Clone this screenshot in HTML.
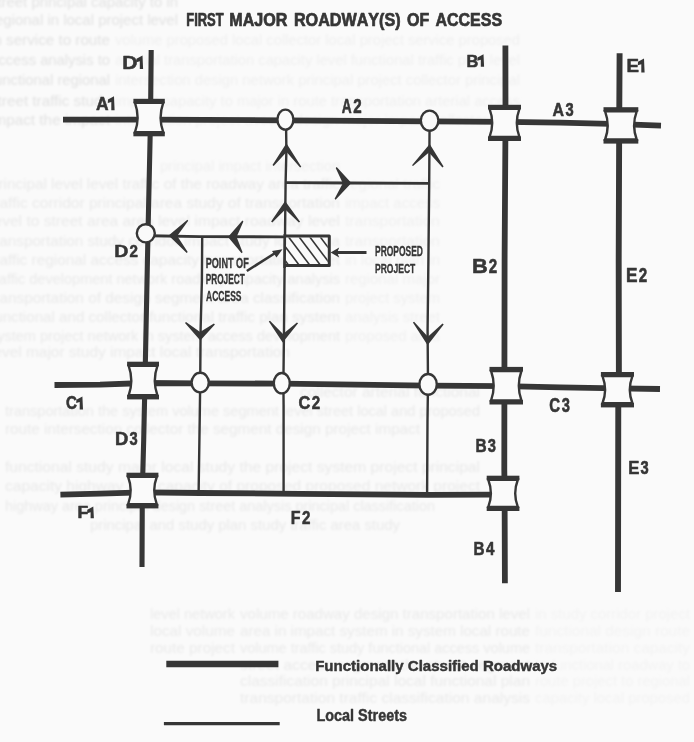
<!DOCTYPE html>
<html><head><meta charset="utf-8"><style>
html,body{margin:0;padding:0;background:#fafafa;}
body{width:694px;height:742px;overflow:hidden;}
svg{display:block;filter:blur(0.7px);}
</style></head><body>
<svg width="694" height="742" viewBox="0 0 694 742">
<rect width="694" height="742" fill="#fafafa"/>
<filter id="btb" x="-5%" y="-5%" width="110%" height="110%"><feGaussianBlur stdDeviation="1.0"/></filter>
<g filter="url(#btb)"><text x="-10.0" y="7.0" font-family='"Liberation Sans", sans-serif' font-size="15.0" fill="#e3e3e3" textLength="188.0" lengthAdjust="spacingAndGlyphs">street principal capacity to in</text>
<text x="-10.0" y="24.5" font-family='"Liberation Sans", sans-serif' font-size="15.0" fill="#e3e3e3" textLength="188.0" lengthAdjust="spacingAndGlyphs">regional in local project level</text>
<text x="-10.0" y="44.5" font-family='"Liberation Sans", sans-serif' font-size="15.0" fill="#e3e3e3" textLength="120.0" lengthAdjust="spacingAndGlyphs">in service to route</text>
<text x="115.0" y="44.5" font-family='"Liberation Sans", sans-serif' font-size="15.0" fill="#f0f0f0" textLength="405.0" lengthAdjust="spacingAndGlyphs">volume proposed local collector local project service proposed</text>
<text x="-10.0" y="64.5" font-family='"Liberation Sans", sans-serif' font-size="15.0" fill="#e3e3e3" textLength="120.0" lengthAdjust="spacingAndGlyphs">access analysis to</text>
<text x="115.0" y="64.5" font-family='"Liberation Sans", sans-serif' font-size="15.0" fill="#f0f0f0" textLength="405.0" lengthAdjust="spacingAndGlyphs">arterial transportation capacity level functional traffic plan level</text>
<text x="-10.0" y="85.0" font-family='"Liberation Sans", sans-serif' font-size="15.0" fill="#e3e3e3" textLength="120.0" lengthAdjust="spacingAndGlyphs">functional regional</text>
<text x="115.0" y="85.0" font-family='"Liberation Sans", sans-serif' font-size="15.0" fill="#f0f0f0" textLength="405.0" lengthAdjust="spacingAndGlyphs">intersection design network principal project collector principal</text>
<text x="-10.0" y="106.0" font-family='"Liberation Sans", sans-serif' font-size="15.0" fill="#e3e3e3" textLength="120.0" lengthAdjust="spacingAndGlyphs">street traffic study</text>
<text x="115.0" y="106.0" font-family='"Liberation Sans", sans-serif' font-size="15.0" fill="#f0f0f0" textLength="405.0" lengthAdjust="spacingAndGlyphs">impact capacity to major in route transportation arterial access</text>
<text x="-10.0" y="125.0" font-family='"Liberation Sans", sans-serif' font-size="15.0" fill="#e3e3e3" textLength="120.0" lengthAdjust="spacingAndGlyphs">impact the impact</text>
<text x="115.0" y="125.0" font-family='"Liberation Sans", sans-serif' font-size="15.0" fill="#f0f0f0" textLength="405.0" lengthAdjust="spacingAndGlyphs">intersection project access design major impact collector plan</text>
<text x="160.0" y="171.0" font-family='"Liberation Sans", sans-serif' font-size="15.0" fill="#f0f0f0" textLength="180.0" lengthAdjust="spacingAndGlyphs">principal impact intersection</text>
<text x="-10.0" y="189.0" font-family='"Liberation Sans", sans-serif' font-size="15.0" fill="#eaeaea" textLength="350.0" lengthAdjust="spacingAndGlyphs">principal level level traffic of the roadway area traffic</text>
<text x="345.0" y="189.0" font-family='"Liberation Sans", sans-serif' font-size="15.0" fill="#f0f0f0" textLength="95.0" lengthAdjust="spacingAndGlyphs">regional traffic</text>
<text x="-10.0" y="207.5" font-family='"Liberation Sans", sans-serif' font-size="15.0" fill="#eaeaea" textLength="350.0" lengthAdjust="spacingAndGlyphs">traffic corridor principal area study of transportation</text>
<text x="345.0" y="207.5" font-family='"Liberation Sans", sans-serif' font-size="15.0" fill="#f0f0f0" textLength="95.0" lengthAdjust="spacingAndGlyphs">impact access</text>
<text x="-10.0" y="226.0" font-family='"Liberation Sans", sans-serif' font-size="15.0" fill="#eaeaea" textLength="350.0" lengthAdjust="spacingAndGlyphs">level to street area area level impact roadway level</text>
<text x="345.0" y="226.0" font-family='"Liberation Sans", sans-serif' font-size="15.0" fill="#f0f0f0" textLength="95.0" lengthAdjust="spacingAndGlyphs">transportation</text>
<text x="-10.0" y="246.0" font-family='"Liberation Sans", sans-serif' font-size="15.0" fill="#eaeaea" textLength="350.0" lengthAdjust="spacingAndGlyphs">transportation study corridor impact study local area</text>
<text x="345.0" y="246.0" font-family='"Liberation Sans", sans-serif' font-size="15.0" fill="#f0f0f0" textLength="95.0" lengthAdjust="spacingAndGlyphs">transportation</text>
<text x="-10.0" y="265.0" font-family='"Liberation Sans", sans-serif' font-size="15.0" fill="#eaeaea" textLength="350.0" lengthAdjust="spacingAndGlyphs">traffic regional access capacity transportation street</text>
<text x="345.0" y="265.0" font-family='"Liberation Sans", sans-serif' font-size="15.0" fill="#f0f0f0" textLength="95.0" lengthAdjust="spacingAndGlyphs">in local plan in</text>
<text x="-10.0" y="284.0" font-family='"Liberation Sans", sans-serif' font-size="15.0" fill="#eaeaea" textLength="350.0" lengthAdjust="spacingAndGlyphs">traffic development network roadway capacity analysis</text>
<text x="345.0" y="284.0" font-family='"Liberation Sans", sans-serif' font-size="15.0" fill="#f0f0f0" textLength="95.0" lengthAdjust="spacingAndGlyphs">regional major</text>
<text x="-10.0" y="303.0" font-family='"Liberation Sans", sans-serif' font-size="15.0" fill="#eaeaea" textLength="350.0" lengthAdjust="spacingAndGlyphs">transportation of design segment area classification</text>
<text x="345.0" y="303.0" font-family='"Liberation Sans", sans-serif' font-size="15.0" fill="#f0f0f0" textLength="95.0" lengthAdjust="spacingAndGlyphs">project system</text>
<text x="-10.0" y="322.0" font-family='"Liberation Sans", sans-serif' font-size="15.0" fill="#eaeaea" textLength="350.0" lengthAdjust="spacingAndGlyphs">functional and collector functional traffic plan system</text>
<text x="345.0" y="322.0" font-family='"Liberation Sans", sans-serif' font-size="15.0" fill="#f0f0f0" textLength="95.0" lengthAdjust="spacingAndGlyphs">analysis street</text>
<text x="-10.0" y="341.0" font-family='"Liberation Sans", sans-serif' font-size="15.0" fill="#eaeaea" textLength="350.0" lengthAdjust="spacingAndGlyphs">system project network in system access development</text>
<text x="345.0" y="341.0" font-family='"Liberation Sans", sans-serif' font-size="15.0" fill="#f0f0f0" textLength="95.0" lengthAdjust="spacingAndGlyphs">proposed area</text>
<text x="-10.0" y="357.0" font-family='"Liberation Sans", sans-serif' font-size="15.0" fill="#eaeaea" textLength="300.0" lengthAdjust="spacingAndGlyphs">level major study impact local transportation</text>
<text x="300.0" y="397.0" font-family='"Liberation Sans", sans-serif' font-size="15.0" fill="#eaeaea" textLength="180.0" lengthAdjust="spacingAndGlyphs">collector arterial functional</text>
<text x="5.0" y="416.0" font-family='"Liberation Sans", sans-serif' font-size="15.0" fill="#eaeaea" textLength="475.0" lengthAdjust="spacingAndGlyphs">transportation the system volume segment level street local and proposed</text>
<text x="5.0" y="434.0" font-family='"Liberation Sans", sans-serif' font-size="15.0" fill="#eaeaea" textLength="415.0" lengthAdjust="spacingAndGlyphs">route intersection collector the segment design project impact</text>
<text x="5.0" y="472.0" font-family='"Liberation Sans", sans-serif' font-size="15.0" fill="#eaeaea" textLength="475.0" lengthAdjust="spacingAndGlyphs">functional study major local study the project system project principal</text>
<text x="5.0" y="491.0" font-family='"Liberation Sans", sans-serif' font-size="15.0" fill="#eaeaea" textLength="475.0" lengthAdjust="spacingAndGlyphs">capacity highway and capacity of proposed proposed network project</text>
<text x="5.0" y="511.0" font-family='"Liberation Sans", sans-serif' font-size="15.0" fill="#eaeaea" textLength="430.0" lengthAdjust="spacingAndGlyphs">highway area principal design street analysis principal classification</text>
<text x="90.0" y="530.0" font-family='"Liberation Sans", sans-serif' font-size="15.0" fill="#eaeaea" textLength="310.0" lengthAdjust="spacingAndGlyphs">principal and study plan study traffic area study</text>
<text x="240.0" y="619.0" font-family='"Liberation Sans", sans-serif' font-size="15.0" fill="#ebebeb" textLength="290.0" lengthAdjust="spacingAndGlyphs">volume roadway design transportation level</text>
<text x="535.0" y="619.0" font-family='"Liberation Sans", sans-serif' font-size="15.0" fill="#f3f3f3" textLength="155.0" lengthAdjust="spacingAndGlyphs">in study corridor project</text>
<text x="240.0" y="636.0" font-family='"Liberation Sans", sans-serif' font-size="15.0" fill="#ebebeb" textLength="290.0" lengthAdjust="spacingAndGlyphs">area in impact system in system local route</text>
<text x="535.0" y="636.0" font-family='"Liberation Sans", sans-serif' font-size="15.0" fill="#f3f3f3" textLength="155.0" lengthAdjust="spacingAndGlyphs">functional design route</text>
<text x="240.0" y="653.0" font-family='"Liberation Sans", sans-serif' font-size="15.0" fill="#ebebeb" textLength="290.0" lengthAdjust="spacingAndGlyphs">volume traffic study functional access volume</text>
<text x="535.0" y="653.0" font-family='"Liberation Sans", sans-serif' font-size="15.0" fill="#f3f3f3" textLength="155.0" lengthAdjust="spacingAndGlyphs">transportation capacity</text>
<text x="240.0" y="670.0" font-family='"Liberation Sans", sans-serif' font-size="15.0" fill="#ebebeb" textLength="290.0" lengthAdjust="spacingAndGlyphs">street access segment the street segment</text>
<text x="535.0" y="670.0" font-family='"Liberation Sans", sans-serif' font-size="15.0" fill="#f3f3f3" textLength="155.0" lengthAdjust="spacingAndGlyphs">to functional roadway to</text>
<text x="240.0" y="686.0" font-family='"Liberation Sans", sans-serif' font-size="15.0" fill="#ebebeb" textLength="290.0" lengthAdjust="spacingAndGlyphs">classification principal local functional plan</text>
<text x="535.0" y="686.0" font-family='"Liberation Sans", sans-serif' font-size="15.0" fill="#f3f3f3" textLength="155.0" lengthAdjust="spacingAndGlyphs">route project to regional</text>
<text x="240.0" y="703.0" font-family='"Liberation Sans", sans-serif' font-size="15.0" fill="#ebebeb" textLength="290.0" lengthAdjust="spacingAndGlyphs">transportation traffic classification analysis</text>
<text x="535.0" y="703.0" font-family='"Liberation Sans", sans-serif' font-size="15.0" fill="#f3f3f3" textLength="155.0" lengthAdjust="spacingAndGlyphs">capacity local proposed</text>
<text x="150.0" y="619.0" font-family='"Liberation Sans", sans-serif' font-size="15.0" fill="#ebebeb" textLength="85.0" lengthAdjust="spacingAndGlyphs">level network</text>
<text x="150.0" y="636.0" font-family='"Liberation Sans", sans-serif' font-size="15.0" fill="#ebebeb" textLength="85.0" lengthAdjust="spacingAndGlyphs">local volume</text>
<text x="150.0" y="653.0" font-family='"Liberation Sans", sans-serif' font-size="15.0" fill="#ebebeb" textLength="85.0" lengthAdjust="spacingAndGlyphs">route project</text></g>
<polyline points="286.0,121.0 286.4,150.0 285.6,183.0 285.0,237.0 284.6,265.0 284.0,330.0 283.4,383.0 283.6,405.0 283.6,494.0" fill="none" stroke="#363636" stroke-width="2.4" stroke-linecap="butt" stroke-linejoin="round"/>
<polyline points="429.6,121.0 429.2,183.0 428.4,260.0 427.6,330.0 428.0,384.0 427.5,420.0 427.1,494.0" fill="none" stroke="#363636" stroke-width="2.4" stroke-linecap="butt" stroke-linejoin="round"/>
<polyline points="202.2,236.5 201.9,280.0 200.6,330.0 200.2,383.0 199.7,420.0 198.6,494.0" fill="none" stroke="#363636" stroke-width="2.4" stroke-linecap="butt" stroke-linejoin="round"/>
<polyline points="285.8,182.6 350.0,183.0 429.2,183.4" fill="none" stroke="#363636" stroke-width="2.8" stroke-linecap="butt" stroke-linejoin="round"/>
<polyline points="150.0,235.8 200.0,236.6 285.0,236.9" fill="none" stroke="#363636" stroke-width="2.9" stroke-linecap="butt" stroke-linejoin="round"/>
<line x1="366.5" y1="252.5" x2="333.0" y2="252.5" stroke="#363636" stroke-width="3.0" stroke-linecap="butt"/>
<line x1="246.8" y1="271.0" x2="276.0" y2="252.5" stroke="#363636" stroke-width="2.6" stroke-linecap="butt"/>
<polyline points="63.0,119.6 150.0,119.6 285.0,120.3 430.0,121.4 505.0,121.9 560.0,122.6 620.0,124.2 661.0,125.6" fill="none" stroke="#363636" stroke-width="5.8" stroke-linecap="butt" stroke-linejoin="round"/>
<polyline points="54.5,385.0 100.0,384.6 145.0,383.0 200.0,383.4 283.0,383.6 428.0,385.6 505.0,386.2 560.0,387.4 618.0,388.4 660.0,389.0" fill="none" stroke="#363636" stroke-width="5.8" stroke-linecap="butt" stroke-linejoin="round"/>
<polyline points="60.4,494.6 100.0,493.6 142.0,492.3 200.0,493.0 300.0,493.8 428.0,494.8 490.0,494.7" fill="none" stroke="#363636" stroke-width="5.8" stroke-linecap="butt" stroke-linejoin="round"/>
<polyline points="151.2,50.0 150.5,120.0 148.0,233.0 145.0,380.0 143.7,440.0 142.3,492.0 142.0,567.0" fill="none" stroke="#363636" stroke-width="5.1" stroke-linecap="butt" stroke-linejoin="round"/>
<polyline points="505.4,45.5 505.5,122.0 504.6,260.0 504.4,385.0 504.3,470.0 504.6,494.0 504.9,583.3" fill="none" stroke="#363636" stroke-width="5.8" stroke-linecap="butt" stroke-linejoin="round"/>
<polyline points="619.6,53.3 619.2,125.0 618.7,260.0 618.9,380.0 618.3,390.0 618.0,592.0" fill="none" stroke="#363636" stroke-width="5.9" stroke-linecap="butt" stroke-linejoin="round"/>
<rect x="285" y="236.1" width="44.3" height="29.5" fill="#fafafa"/>
<polyline points="285.0,236.1 329.3,236.1 329.3,265.6 285.0,265.6" fill="none" stroke="#363636" stroke-width="3.0" stroke-linecap="butt" stroke-linejoin="round"/>
<clipPath id="hb"><rect x="285.5" y="237.6" width="42.3" height="26.5"/></clipPath>
<g clip-path="url(#hb)"><line x1="267.4" y1="237.0" x2="297.5" y2="277.0" stroke="#363636" stroke-width="1.6" stroke-linecap="butt"/><line x1="278.0" y1="237.0" x2="308.1" y2="277.0" stroke="#363636" stroke-width="1.6" stroke-linecap="butt"/><line x1="288.6" y1="237.0" x2="318.7" y2="277.0" stroke="#363636" stroke-width="1.6" stroke-linecap="butt"/><line x1="299.2" y1="237.0" x2="329.3" y2="277.0" stroke="#363636" stroke-width="1.6" stroke-linecap="butt"/><line x1="309.8" y1="237.0" x2="339.9" y2="277.0" stroke="#363636" stroke-width="1.6" stroke-linecap="butt"/><line x1="320.3" y1="237.0" x2="350.4" y2="277.0" stroke="#363636" stroke-width="1.6" stroke-linecap="butt"/></g>
<line x1="284.8" y1="234.0" x2="284.6" y2="268.0" stroke="#363636" stroke-width="2.6" stroke-linecap="butt"/>
<polygon points="286.4,143.3 272.5,165.1 273.7,165.9 286.6,151.9 300.1,167.5 301.3,166.7" fill="#363636"/>
<polygon points="429.7,144.0 412.0,165.2 413.0,166.0 428.9,152.6 442.4,167.4 443.6,166.6" fill="#363636"/>
<polygon points="351.4,183.0 336.7,167.1 335.7,168.1 342.8,183.2 334.6,198.8 335.6,199.8" fill="#363636"/>
<polygon points="168.6,235.6 187.4,219.7 188.2,220.7 177.2,235.9 187.7,252.0 186.7,253.0" fill="#363636"/>
<polygon points="228.0,237.0 242.4,220.5 243.4,221.5 236.6,236.9 242.6,252.2 241.6,253.2" fill="#363636"/>
<polygon points="285.1,201.0 271.1,221.6 272.3,222.4 285.3,209.6 298.9,222.6 300.1,221.8" fill="#363636"/>
<polygon points="200.3,340.6 185.0,323.1 186.0,322.1 200.1,332.0 213.9,323.4 214.9,324.4" fill="#363636"/>
<polygon points="282.7,342.5 268.8,321.6 270.0,320.8 283.0,333.9 296.9,322.4 298.1,323.2" fill="#363636"/>
<polygon points="427.6,345.3 412.9,322.6 414.1,321.8 427.9,336.7 442.5,323.6 443.7,324.4" fill="#363636"/>
<polygon points="330.6,252.5 339.2,247.6 337.2,252.5 339.2,257.4" fill="#363636"/>
<polygon points="282.5,249.2 272.0,251.0 276.5,257.5" fill="#363636"/>
<ellipse cx="285.4" cy="119.6" rx="8.0" ry="10.0" fill="#fafafa" stroke="#363636" stroke-width="2.4"/>
<ellipse cx="429.6" cy="120.6" rx="8.8" ry="10.0" fill="#fafafa" stroke="#363636" stroke-width="2.4"/>
<ellipse cx="145.8" cy="233.3" rx="9.0" ry="9.1" fill="#fafafa" stroke="#363636" stroke-width="2.4"/>
<ellipse cx="200.2" cy="382.6" rx="8.6" ry="9.8" fill="#fafafa" stroke="#363636" stroke-width="2.4"/>
<ellipse cx="281.8" cy="383.2" rx="8.0" ry="10.2" fill="#fafafa" stroke="#363636" stroke-width="2.4"/>
<ellipse cx="428.1" cy="384.4" rx="8.7" ry="10.4" fill="#fafafa" stroke="#363636" stroke-width="2.4"/>
<rect x="133.4" y="98.8" width="31.4" height="4.6" fill="#363636"/>
<rect x="133.4" y="131.7" width="31.4" height="4.6" fill="#363636"/>
<path d="M135.0,102.9 Q140.2,117.6 135.0,132.2 L163.2,132.2 Q158.0,117.6 163.2,102.9 Z" fill="#fafafa" stroke="#363636" stroke-width="2.4"/>
<rect x="488.0" y="104.8" width="33.0" height="4.6" fill="#363636"/>
<rect x="488.0" y="136.4" width="33.0" height="4.6" fill="#363636"/>
<path d="M489.6,108.9 Q494.8,122.9 489.6,136.9 L519.4,136.9 Q514.2,122.9 519.4,108.9 Z" fill="#fafafa" stroke="#363636" stroke-width="2.4"/>
<rect x="603.5" y="107.2" width="34.8" height="4.6" fill="#363636"/>
<rect x="603.5" y="139.0" width="34.8" height="4.6" fill="#363636"/>
<path d="M605.1,111.3 Q610.3,125.4 605.1,139.5 L636.7,139.5 Q631.5,125.4 636.7,111.3 Z" fill="#fafafa" stroke="#363636" stroke-width="2.4"/>
<rect x="127.1" y="361.7" width="31.9" height="4.6" fill="#363636"/>
<rect x="127.1" y="394.8" width="31.9" height="4.6" fill="#363636"/>
<path d="M128.7,365.8 Q133.9,380.5 128.7,395.3 L157.4,395.3 Q152.2,380.5 157.4,365.8 Z" fill="#fafafa" stroke="#363636" stroke-width="2.4"/>
<rect x="489.5" y="366.9" width="33.5" height="4.6" fill="#363636"/>
<rect x="489.5" y="399.9" width="33.5" height="4.6" fill="#363636"/>
<path d="M491.1,371.0 Q496.3,385.7 491.1,400.4 L521.4,400.4 Q516.2,385.7 521.4,371.0 Z" fill="#fafafa" stroke="#363636" stroke-width="2.4"/>
<rect x="600.9" y="372.0" width="33.1" height="4.6" fill="#363636"/>
<rect x="600.9" y="402.8" width="33.1" height="4.6" fill="#363636"/>
<path d="M602.5,376.1 Q607.7,389.7 602.5,403.3 L632.4,403.3 Q627.2,389.7 632.4,376.1 Z" fill="#fafafa" stroke="#363636" stroke-width="2.4"/>
<rect x="126.5" y="472.7" width="31.9" height="4.6" fill="#363636"/>
<rect x="126.5" y="503.8" width="31.9" height="4.6" fill="#363636"/>
<path d="M128.1,476.8 Q133.3,490.5 128.1,504.3 L156.8,504.3 Q151.6,490.5 156.8,476.8 Z" fill="#fafafa" stroke="#363636" stroke-width="2.4"/>
<rect x="486.7" y="475.7" width="32.7" height="4.6" fill="#363636"/>
<rect x="486.7" y="506.4" width="32.7" height="4.6" fill="#363636"/>
<path d="M488.3,479.8 Q493.5,493.4 488.3,506.9 L517.8,506.9 Q512.6,493.4 517.8,479.8 Z" fill="#fafafa" stroke="#363636" stroke-width="2.4"/>
<line x1="166.3" y1="664.0" x2="278.4" y2="664.0" stroke="#363636" stroke-width="6.6" stroke-linecap="butt"/>
<line x1="163.9" y1="723.6" x2="279.7" y2="723.6" stroke="#363636" stroke-width="3.2" stroke-linecap="butt"/>
<text transform="translate(122.34,68.60) scale(1.158,1)" font-family='"Liberation Sans", sans-serif' font-size="18.17" font-weight="bold" fill="#363636" stroke="#363636" stroke-width="0.51" stroke-linejoin="round">D</text><path d="M142.5,55.6 L143.1,68.9 L139.8,68.9 L139.8,61.2 L136.3,62.2 L136.5,58.8 Z" fill="#363636"/>
<text transform="translate(96.02,110.00) scale(0.909,1)" font-family='"Liberation Sans", sans-serif' font-size="19.19" font-weight="bold" fill="#363636" stroke="#363636" stroke-width="0.58" stroke-linejoin="round">A</text><path d="M114.0,96.3 L114.6,110.3 L111.3,110.3 L111.3,101.9 L107.8,102.9 L108.0,99.5 Z" fill="#363636"/>
<text transform="translate(466.55,66.50) scale(0.956,1)" font-family='"Liberation Sans", sans-serif' font-size="17.15" font-weight="bold" fill="#363636" stroke="#363636" stroke-width="0.56" stroke-linejoin="round">B</text><path d="M483.5,54.2 L484.1,66.8 L480.8,66.8 L480.8,59.8 L477.3,60.8 L477.5,57.4 Z" fill="#363636"/>
<text transform="translate(626.40,72.10) scale(0.990,1)" font-family='"Liberation Sans", sans-serif' font-size="18.90" font-weight="bold" fill="#363636" stroke="#363636" stroke-width="0.55" stroke-linejoin="round">E</text><path d="M644.0,58.6 L644.6,72.4 L641.3,72.4 L641.3,64.2 L637.8,65.2 L638.0,61.8 Z" fill="#363636"/>
<text transform="translate(341.81,112.60) scale(0.694,1)" font-family='"Liberation Sans", sans-serif' font-size="19.77" font-weight="bold" fill="#363636" stroke="#363636" stroke-width="0.66" stroke-linejoin="round">A</text><text transform="translate(353.32,112.60) scale(0.767,1)" font-family='"Liberation Sans", sans-serif' font-size="19.77" font-weight="bold" fill="#363636" stroke="#363636" stroke-width="0.63" stroke-linejoin="round">2</text>
<text transform="translate(552.55,115.90) scale(0.857,1)" font-family='"Liberation Sans", sans-serif' font-size="18.60" font-weight="bold" fill="#363636" stroke="#363636" stroke-width="0.59" stroke-linejoin="round">A</text><text transform="translate(565.61,115.90) scale(0.789,1)" font-family='"Liberation Sans", sans-serif' font-size="18.60" font-weight="bold" fill="#363636" stroke="#363636" stroke-width="0.62" stroke-linejoin="round">3</text>
<text transform="translate(114.14,256.70) scale(1.191,1)" font-family='"Liberation Sans", sans-serif' font-size="16.42" font-weight="bold" fill="#363636" stroke="#363636" stroke-width="0.50" stroke-linejoin="round">D</text><text transform="translate(129.42,256.70) scale(0.923,1)" font-family='"Liberation Sans", sans-serif' font-size="16.42" font-weight="bold" fill="#363636" stroke="#363636" stroke-width="0.57" stroke-linejoin="round">2</text>
<text transform="translate(471.99,273.10) scale(1.064,1)" font-family='"Liberation Sans", sans-serif' font-size="20.49" font-weight="bold" fill="#363636" stroke="#363636" stroke-width="0.53" stroke-linejoin="round">B</text><text transform="translate(488.72,273.10) scale(0.740,1)" font-family='"Liberation Sans", sans-serif' font-size="20.49" font-weight="bold" fill="#363636" stroke="#363636" stroke-width="0.64" stroke-linejoin="round">2</text>
<text transform="translate(625.99,282.10) scale(0.868,1)" font-family='"Liberation Sans", sans-serif' font-size="19.91" font-weight="bold" fill="#363636" stroke="#363636" stroke-width="0.59" stroke-linejoin="round">E</text><text transform="translate(638.82,282.10) scale(0.761,1)" font-family='"Liberation Sans", sans-serif' font-size="19.91" font-weight="bold" fill="#363636" stroke="#363636" stroke-width="0.63" stroke-linejoin="round">2</text>
<text transform="translate(66.03,409.20) scale(0.854,1)" font-family='"Liberation Sans", sans-serif' font-size="17.73" font-weight="bold" fill="#363636" stroke="#363636" stroke-width="0.60" stroke-linejoin="round">C</text><path d="M82.4,396.5 L83.0,409.5 L79.7,409.5 L79.7,402.1 L76.2,403.1 L76.4,399.7 Z" fill="#363636"/>
<text transform="translate(298.38,408.50) scale(0.887,1)" font-family='"Liberation Sans", sans-serif' font-size="18.46" font-weight="bold" fill="#363636" stroke="#363636" stroke-width="0.58" stroke-linejoin="round">C</text><text transform="translate(311.72,408.50) scale(0.821,1)" font-family='"Liberation Sans", sans-serif' font-size="18.46" font-weight="bold" fill="#363636" stroke="#363636" stroke-width="0.61" stroke-linejoin="round">2</text>
<text transform="translate(549.34,412.10) scale(0.747,1)" font-family='"Liberation Sans", sans-serif' font-size="20.06" font-weight="bold" fill="#363636" stroke="#363636" stroke-width="0.64" stroke-linejoin="round">C</text><text transform="translate(561.71,412.10) scale(0.732,1)" font-family='"Liberation Sans", sans-serif' font-size="20.06" font-weight="bold" fill="#363636" stroke="#363636" stroke-width="0.64" stroke-linejoin="round">3</text>
<text transform="translate(115.02,445.20) scale(1.006,1)" font-family='"Liberation Sans", sans-serif' font-size="18.31" font-weight="bold" fill="#363636" stroke="#363636" stroke-width="0.55" stroke-linejoin="round">D</text><text transform="translate(129.51,445.20) scale(0.802,1)" font-family='"Liberation Sans", sans-serif' font-size="18.31" font-weight="bold" fill="#363636" stroke="#363636" stroke-width="0.61" stroke-linejoin="round">3</text>
<text transform="translate(475.42,452.40) scale(0.803,1)" font-family='"Liberation Sans", sans-serif' font-size="19.19" font-weight="bold" fill="#363636" stroke="#363636" stroke-width="0.61" stroke-linejoin="round">B</text><text transform="translate(487.81,452.40) scale(0.765,1)" font-family='"Liberation Sans", sans-serif' font-size="19.19" font-weight="bold" fill="#363636" stroke="#363636" stroke-width="0.63" stroke-linejoin="round">3</text>
<text transform="translate(628.13,473.60) scale(0.901,1)" font-family='"Liberation Sans", sans-serif' font-size="18.60" font-weight="bold" fill="#363636" stroke="#363636" stroke-width="0.58" stroke-linejoin="round">E</text><text transform="translate(640.61,473.60) scale(0.789,1)" font-family='"Liberation Sans", sans-serif' font-size="18.60" font-weight="bold" fill="#363636" stroke="#363636" stroke-width="0.62" stroke-linejoin="round">3</text>
<text transform="translate(77.38,517.90) scale(1.118,1)" font-family='"Liberation Sans", sans-serif' font-size="15.70" font-weight="bold" fill="#363636" stroke="#363636" stroke-width="0.52" stroke-linejoin="round">F</text><path d="M93.3,506.6 L93.9,518.2 L90.6,518.2 L90.6,512.2 L87.1,513.2 L87.3,509.8 Z" fill="#363636"/>
<text transform="translate(290.78,524.40) scale(0.858,1)" font-family='"Liberation Sans", sans-serif' font-size="18.60" font-weight="bold" fill="#363636" stroke="#363636" stroke-width="0.59" stroke-linejoin="round">F</text><text transform="translate(301.92,524.40) scale(0.815,1)" font-family='"Liberation Sans", sans-serif' font-size="18.60" font-weight="bold" fill="#363636" stroke="#363636" stroke-width="0.61" stroke-linejoin="round">2</text>
<text transform="translate(473.53,555.20) scale(0.853,1)" font-family='"Liberation Sans", sans-serif' font-size="17.88" font-weight="bold" fill="#363636" stroke="#363636" stroke-width="0.60" stroke-linejoin="round">B</text><text transform="translate(485.92,555.20) scale(0.846,1)" font-family='"Liberation Sans", sans-serif' font-size="17.88" font-weight="bold" fill="#363636" stroke="#363636" stroke-width="0.60" stroke-linejoin="round">4</text>
<text transform="translate(375.03,255.90) scale(0.5829,1)" style="font-kerning:none" font-family='"Liberation Sans", sans-serif' font-size="14.53" font-weight="bold" fill="#363636" stroke="#363636" stroke-width="0.35" stroke-linejoin="round">PROPOSED</text>
<text transform="translate(375.03,272.60) scale(0.6239,1)" style="font-kerning:none" font-family='"Liberation Sans", sans-serif' font-size="13.66" font-weight="bold" fill="#363636" stroke="#363636" stroke-width="0.35" stroke-linejoin="round">PROJECT</text>
<text transform="translate(205.69,267.80) scale(0.6286,1)" style="font-kerning:none" font-family='"Liberation Sans", sans-serif' font-size="14.53" font-weight="bold" fill="#363636" stroke="#363636" stroke-width="0.35" stroke-linejoin="round">POINT OF</text>
<text transform="translate(205.75,284.20) scale(0.5730,1)" style="font-kerning:none" font-family='"Liberation Sans", sans-serif' font-size="14.39" font-weight="bold" fill="#363636" stroke="#363636" stroke-width="0.35" stroke-linejoin="round">PROJECT</text>
<text transform="translate(206.09,301.00) scale(0.5910,1)" style="font-kerning:none" font-family='"Liberation Sans", sans-serif' font-size="14.39" font-weight="bold" fill="#363636" stroke="#363636" stroke-width="0.35" stroke-linejoin="round">ACCESS</text>
<text transform="translate(186.23,26.10) scale(0.7322,1)" style="font-kerning:none" font-family='"Liberation Sans", sans-serif' font-size="17.73" font-weight="bold" fill="#363636" stroke="#363636" stroke-width="0.70" stroke-linejoin="round">FIRST</text>
<text transform="translate(229.32,26.10) scale(0.9074,1)" style="font-kerning:none" font-family='"Liberation Sans", sans-serif' font-size="17.73" font-weight="bold" fill="#363636" stroke="#363636" stroke-width="0.70" stroke-linejoin="round">MAJOR</text>
<text transform="translate(293.92,26.10) scale(0.9101,1)" style="font-kerning:none" font-family='"Liberation Sans", sans-serif' font-size="17.73" font-weight="bold" fill="#363636" stroke="#363636" stroke-width="0.70" stroke-linejoin="round">ROADWAY(S)</text>
<text transform="translate(407.04,26.10) scale(0.9033,1)" style="font-kerning:none" font-family='"Liberation Sans", sans-serif' font-size="17.73" font-weight="bold" fill="#363636" stroke="#363636" stroke-width="0.70" stroke-linejoin="round">OF</text>
<text transform="translate(435.40,26.10) scale(0.9029,1)" style="font-kerning:none" font-family='"Liberation Sans", sans-serif' font-size="17.73" font-weight="bold" fill="#363636" stroke="#363636" stroke-width="0.70" stroke-linejoin="round">ACCESS</text>
<text transform="translate(315.19,670.60) scale(1.0350,1)" style="font-kerning:none" font-family='"Liberation Sans", sans-serif' font-size="14.53" font-weight="bold" fill="#363636" stroke="#363636" stroke-width="0.45" stroke-linejoin="round">Functionally Classified Roadways</text>
<text transform="translate(316.43,721.20) scale(0.8867,1)" style="font-kerning:none" font-family='"Liberation Sans", sans-serif' font-size="16.28" font-weight="bold" fill="#363636" stroke="#363636" stroke-width="0.45" stroke-linejoin="round">Local Streets</text>
</svg>
</body></html>
